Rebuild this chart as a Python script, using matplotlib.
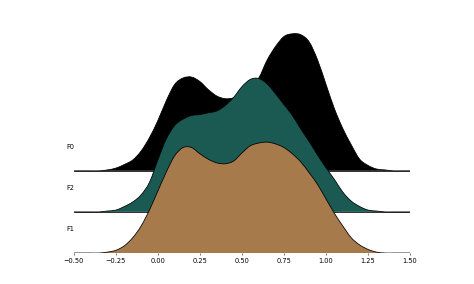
import numpy as np
import matplotlib
matplotlib.use('Agg')
import matplotlib.pyplot as plt
from matplotlib.path import Path
from matplotlib.patches import PathPatch

# Density values, on a 0.05 grid from -0.5 to 1.5
grid = np.round(np.arange(-0.5, 1.5001, 0.05), 2)

f0 = [0, 0, 0, 0, 0.01, 0.03, 0.07, 0.12, 0.22, 0.37, 0.56, 0.78, 0.96, 1.03, 1.04,
      0.99, 0.90, 0.83, 0.80, 0.81, 0.86, 0.93, 1.03, 1.23, 1.38, 1.49, 1.52, 1.51,
      1.43, 1.23, 0.96, 0.69, 0.47, 0.29, 0.13, 0.06, 0.02, 0.01, 0, 0, 0]
f2 = [0, 0, 0, 0, 0.01, 0.02, 0.06, 0.11, 0.19, 0.33, 0.58, 0.81, 0.96, 1.03, 1.07,
      1.08, 1.10, 1.12, 1.18, 1.27, 1.39, 1.47, 1.48, 1.42, 1.31, 1.19, 1.07, 0.92,
      0.78, 0.63, 0.49, 0.36, 0.22, 0.12, 0.06, 0.02, 0.01, 0, 0, 0, 0]
f1 = [0, 0, 0, 0, 0.01, 0.03, 0.08, 0.17, 0.30, 0.48, 0.69, 0.90, 1.08, 1.17, 1.17,
      1.10, 1.04, 1.00, 0.99, 1.02, 1.11, 1.19, 1.22, 1.23, 1.21, 1.17, 1.10, 1.01,
      0.89, 0.76, 0.60, 0.44, 0.30, 0.17, 0.09, 0.04, 0.01, 0, 0, 0, 0]

labels = ['F0', 'F2', 'F1']
series = [f0, f2, f1]
colors = ['#000000', '#1a5a52', '#a67a4a']
spacing = 0.456


def smooth_path(x, y, base=None):
    # cubic bezier through the read points (catmull-rom control points)
    pts = np.column_stack([x, y])
    ext = np.vstack([pts[0], pts, pts[-1]])
    verts = [pts[0]]
    codes = [Path.MOVETO]
    for i in range(len(pts) - 1):
        p0, p1, p2, p3 = ext[i], ext[i + 1], ext[i + 2], ext[i + 3]
        verts += [p1 + (p2 - p0) / 6, p2 - (p3 - p1) / 6, p2]
        codes += [Path.CURVE4] * 3
    if base is not None:
        verts += [(x[-1], base), (x[0], base), pts[0]]
        codes += [Path.LINETO, Path.LINETO, Path.CLOSEPOLY]
    return Path(verts, codes)


fig = plt.figure(figsize=(10, 6), dpi=47.4)
ax = fig.add_axes([0.156, 0.109, 0.709, 0.824])

n = len(series)
for i, (lab, vals, col) in enumerate(zip(labels, series, colors)):
    off = (n - 1 - i) * spacing
    z = 2 + i * 3
    y = np.array(vals) + off
    ax.add_patch(PathPatch(smooth_path(grid, y, off), facecolor=col,
                           edgecolor='none', zorder=z))
    ax.add_patch(PathPatch(smooth_path(grid, y), facecolor='none',
                           edgecolor='black', lw=1.2, zorder=z + 1))
    ax.plot([-0.5, 1.5], [off, off], color='black', lw=1.2, zorder=z + 1)
    ax.text(-0.497, off + 0.27, lab, ha='right', va='center', fontsize=10)

ax.set_xlim(-0.5, 1.5)
ax.set_ylim(0, 2.6)
ax.set_xticks([-0.5, -0.25, 0, 0.25, 0.5, 0.75, 1.0, 1.25, 1.5])
ax.set_yticks([])
for s in ['top', 'right', 'left', 'bottom']:
    ax.spines[s].set_visible(False)
ax.tick_params(axis='x', labelsize=10)

plt.savefig('out.png', dpi=47.4)
